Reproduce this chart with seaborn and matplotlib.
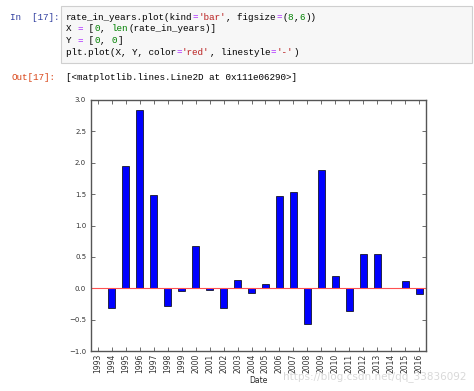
import numpy as np
import pandas as pd
import matplotlib
matplotlib.use("Agg")
import matplotlib.pyplot as plt
import seaborn as sns

years = [str(y) for y in range(1993, 2017)]
rates = [0.0, -0.31, 1.95, 2.84, 1.48, -0.28, -0.05, 0.67, -0.03, -0.31,
         0.13, -0.07, 0.07, 1.47, 1.54, -0.57, 1.88, 0.19, -0.36, 0.55,
         0.55, 0.01, 0.11, -0.09]
y_ticks = [-1.0, -0.5, 0.0, 0.5, 1.0, 1.5, 2.0, 2.5, 3.0]

code_lines = [
    [("rate_in_years.plot(kind", "#000000"), ("=", "#AA22FF"), ("'bar'", "#BA2121"),
     (", figsize", "#000000"), ("=", "#AA22FF"), ("(", "#000000"), ("8", "#008000"),
     (",", "#000000"), ("6", "#008000"), ("))", "#000000")],
    [("X ", "#000000"), ("=", "#AA22FF"), (" [", "#000000"), ("0", "#008000"),
     (", ", "#000000"), ("len", "#008000"), ("(rate_in_years)]", "#000000")],
    [("Y ", "#000000"), ("=", "#AA22FF"), (" [", "#000000"), ("0", "#008000"),
     (", ", "#000000"), ("0", "#008000"), ("]", "#000000")],
    [("plt.plot(X, Y, color", "#000000"), ("=", "#AA22FF"), ("'red'", "#BA2121"),
     (", linestyle", "#000000"), ("=", "#AA22FF"), ("'-'", "#BA2121"), (")", "#000000")],
]

sns.set_style("ticks")
plt.rcParams["font.family"] = ["DejaVu Sans"]
plt.rcParams["xtick.direction"] = "in"
plt.rcParams["ytick.direction"] = "in"

W, H = 474, 391
fig = plt.figure(figsize=(W / 100, H / 100), dpi=100)
renderer = fig.canvas.get_renderer()

# notebook cell decoration
mono = "Liberation Mono"
fs = 6.7
fig.text(10 / W, 1 - 17 / H, "In  [17]:", color="#303F9F", family=mono, fontsize=fs, va="center")
box = plt.Rectangle((61 / W, 1 - 63 / H), 411 / W, 57 / H, transform=fig.transFigure,
                    facecolor="#f7f7f7", edgecolor="#cfcfcf", lw=0.8)
fig.add_artist(box)
for i, parts in enumerate(code_lines):
    x = 66
    yy = 1 - (17 + i * 11.7) / H
    for txt, col in parts:
        t = fig.text(x / W, yy, txt, color=col, family=mono, fontsize=fs, va="center")
        bb = t.get_window_extent(renderer)
        x = bb.x1 + 0.3
fig.text(12 / W, 1 - 77 / H, "Out[17]:", color="#D84315", family=mono, fontsize=fs, va="center")
fig.text(66 / W, 1 - 77 / H, "[<matplotlib.lines.Line2D at 0x111e06290>]", color="#000000",
         family=mono, fontsize=fs, va="center")

# chart
ax = fig.add_axes([91 / W, 1 - 351 / H, 335 / W, 251 / H])
df = pd.DataFrame({"Date": years, "rate": rates})
sns.barplot(data=df, x="Date", y="rate", color="#0000ff", edgecolor="black", linewidth=0.5,
            width=0.5, saturation=1, ax=ax)
ax.plot([-0.5, len(years)], [0, 0], color="#ff5050", linestyle="-", lw=0.8)
ax.set_xlim(-0.5, len(years) - 0.5)
ax.set_ylim(-1.0, 3.0)
ax.set_yticks(y_ticks)
ax.set_yticklabels([f"{v:.1f}".replace("-", "\u2212") for v in y_ticks])
ax.set_ylabel("")
ax.set_xlabel("Date", fontsize=5.5, labelpad=2)
ax.tick_params(axis="x", labelrotation=90, labelsize=5.5, length=3, width=0.5,
               top=True, bottom=True, colors="#333333", pad=2)
ax.tick_params(axis="y", labelsize=5, length=3, width=0.5, left=True, right=True, colors="#333333")
for s in ax.spines.values():
    s.set_visible(True)
    s.set_color("#555555")
    s.set_linewidth(1.0)

fig.text(467 / W, 1 - 377 / H, "https://blog.csdn.net/qq_33836092", color="#d9d9d9",
         fontsize=7.5, va="center", ha="right")

fig.savefig("out.png", dpi=100)
